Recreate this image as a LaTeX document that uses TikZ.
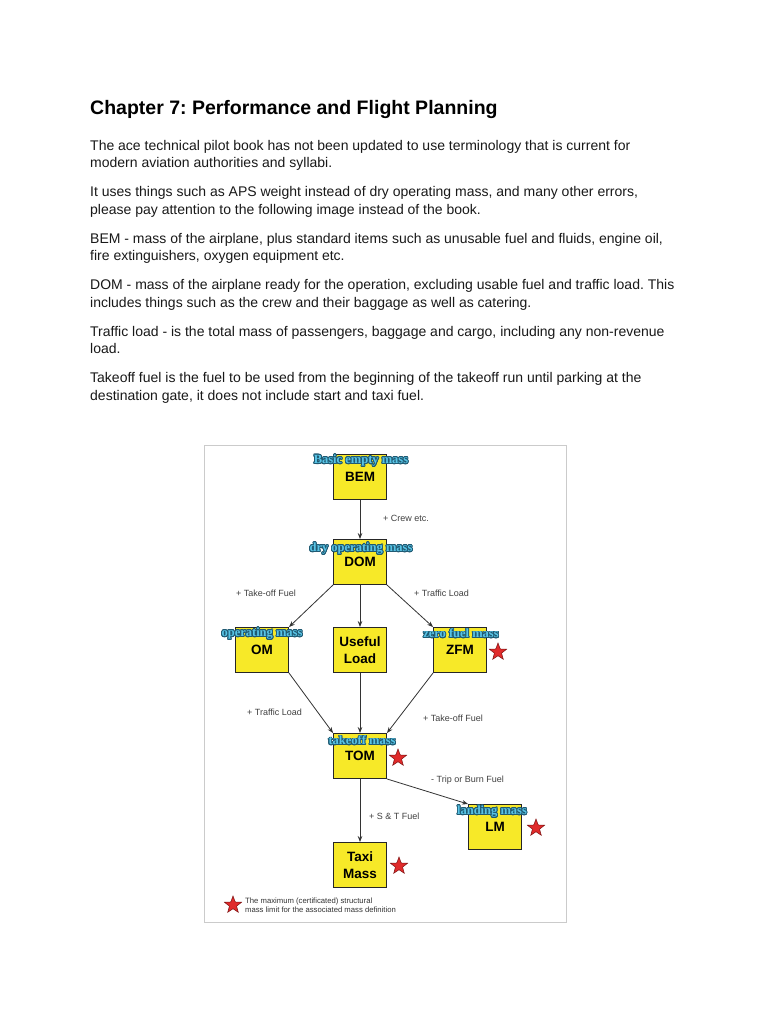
\documentclass[tikz,border=0pt]{standalone}
\usepackage{fontspec}
\setmainfont{Liberation Sans}
\newfontfamily\tagfont{Liberation Serif}
\usepackage{contour}
\contourlength{0.8pt}
\contournumber{20}
\usetikzlibrary{shapes.geometric,arrows.meta}
\definecolor{boxyellow}{HTML}{F7E928}
\definecolor{tagcyan}{HTML}{58C4E6}
\definecolor{tagdark}{HTML}{1F5A73}
\definecolor{starred}{HTML}{E02B2B}
\definecolor{stardark}{HTML}{7A1010}
\definecolor{framegray}{HTML}{CBCBCB}
\newcommand{\masstag}[1]{\contour{tagdark}{#1}}
\frenchspacing
\begin{document}
\begin{tikzpicture}[x=1pt, y=-1pt, >={Stealth[length=6pt,width=4.5pt]},
  para/.style={font=\fontsize{14}{17.5}\selectfont, text=black!90, inner sep=0pt, anchor=base west},
  massbox/.style={draw=black!85, line width=0.9pt, fill=boxyellow, minimum width=53pt, minimum height=45pt, inner sep=0pt, align=center, font=\fontsize{13.5}{17}\selectfont\bfseries},
  tag/.style={font=\tagfont\bfseries\fontsize{12.5}{14}\selectfont, text=tagcyan, inner sep=0pt},
  hint/.style={font=\fontsize{9}{11}\selectfont, text=black!75, inner sep=0pt, anchor=west},
  limit/.style={star, star points=5, star point ratio=2.4, minimum size=18pt, inner sep=0pt, fill=starred, draw=stardark, line width=0.5pt},
  flow/.style={->, draw=black!80, line width=0.8pt}]
\useasboundingbox[fill=white] (0,0) rectangle (768,1024);
% page text
\node[para, font=\fontsize{19.5}{22}\selectfont\bfseries, text=black] (title) at (90,115) {Chapter 7: Performance and Flight Planning};
\node[para] (p1a) at (90,150.5) {The ace technical pilot book has not been updated to use terminology that is current for};
\node[para] (p1b) at (90,168) {modern aviation authorities and syllabi.};
\node[para] (p2a) at (90,196.9) {It uses things such as APS weight instead of dry operating mass, and many other errors,};
\node[para] (p2b) at (90,214.4) {please pay attention to the following image instead of the book.};
\node[para] (p3a) at (90,243.3) {BEM - mass of the airplane, plus standard items such as unusable fuel and fluids, engine oil,};
\node[para] (p3b) at (90,260.8) {fire extinguishers, oxygen equipment etc.};
\node[para] (p4a) at (90,289.7) {DOM - mass of the airplane ready for the operation, excluding usable fuel and traffic load. This};
\node[para] (p4b) at (90,307.2) {includes things such as the crew and their baggage as well as catering.};
\node[para] (p5a) at (90,336.1) {Traffic load - is the total mass of passengers, baggage and cargo, including any non-revenue};
\node[para] (p5b) at (90,353.6) {load.};
\node[para] (p6a) at (90,382.5) {Takeoff fuel is the fuel to be used from the beginning of the takeoff run until parking at the};
\node[para] (p6b) at (90,400) {destination gate, it does not include start and taxi fuel.};
% diagram frame
\draw[framegray, line width=0.8pt] (204,445) rectangle (566,922);
% mass boxes
\node[massbox] (bem) at (360,477) {BEM};
\node[massbox] (dom) at (360,562) {DOM};
\node[massbox] (om) at (262,650) {OM};
\node[massbox] (useful) at (360,650) {Useful\\Load};
\node[massbox] (zfm) at (460,650) {ZFM};
\node[massbox] (tom) at (360,756) {TOM};
\node[massbox] (lm) at (495,827) {LM};
\node[massbox] (taxi) at (360,865) {Taxi\\Mass};
% connectors
\draw[flow] (bem) -- (dom);
\draw[flow] (dom.south west) -- (om.north east);
\draw[flow] (dom) -- (useful);
\draw[flow] (dom.south east) -- (zfm.north west);
\draw[flow] (om.south east) -- (tom.north west);
\draw[flow] (useful) -- (tom);
\draw[flow] (zfm.south west) -- (tom.north east);
\draw[flow] (tom.south east) -- (lm.north west);
\draw[flow] (tom) -- (taxi);
% connector texts
\node[hint] (crew) at (383,518) {+ Crew etc.};
\node[hint] (tofuelA) at (236,593) {+ Take-off Fuel};
\node[hint] (tloadA) at (414,593) {+ Traffic Load};
\node[hint] (tloadB) at (247,712) {+ Traffic Load};
\node[hint] (tofuelB) at (423,718) {+ Take-off Fuel};
\node[hint] (trip) at (431,780) {- Trip or Burn Fuel};
\node[hint] (stfuel) at (369,816) {+ S \& T Fuel};
% mass names
\node[tag] (bemtag) at (361,461) {\masstag{Basic empty mass}};
\node[tag] (domtag) at (361,549) {\masstag{dry operating mass}};
\node[tag] (omtag) at (262,634) {\masstag{operating mass}};
\node[tag] (zfmtag) at (461,634) {\masstag{zero fuel mass}};
\node[tag] (tomtag) at (362,741) {\masstag{takeoff mass}};
\node[tag] (lmtag) at (492,812) {\masstag{landing mass}};
% structural limits
\node[limit] (zfmstar) at (498,652) {};
\node[limit] (tomstar) at (398,758) {};
\node[limit] (lmstar) at (536,828) {};
\node[limit] (taxistar) at (399,866) {};
\node[limit] (keystar) at (233,905) {};
\node[anchor=west, align=left, inner sep=0pt, text=black!80, font=\fontsize{7.7}{9.3}\selectfont] (keytext) at (245,905) {The maximum (certificated) structural\\mass limit for the associated mass definition};
\end{tikzpicture}
\end{document}
